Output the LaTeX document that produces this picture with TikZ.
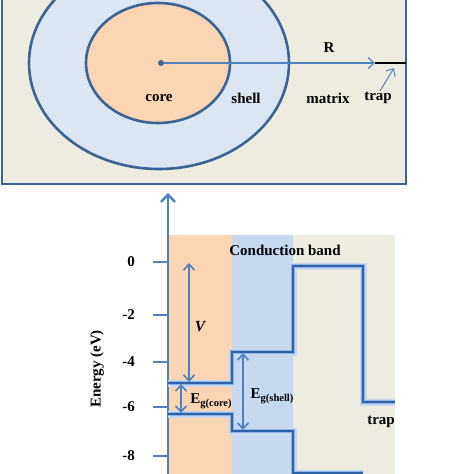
\documentclass[tikz,border=0pt]{standalone}
\usepackage{fontspec}
\setmainfont{Liberation Serif}
\usetikzlibrary{arrows.meta,positioning}
\definecolor{boxblue}{HTML}{3B6494}
\definecolor{midblue}{HTML}{4F81BD}
\definecolor{bandblue}{HTML}{2F62A6}
\definecolor{glowblue}{HTML}{8DB4E3}
\definecolor{matrixbg}{HTML}{EEECE1}
\definecolor{shellbg}{HTML}{DCE6F2}
\definecolor{shellband}{HTML}{C6D9F1}
\definecolor{corebg}{HTML}{FCD5B5}
\newcommand{\subg}[1]{\raisebox{-3pt}{\fontsize{10.5}{10}\selectfont #1}}

\begin{document}
\begin{tikzpicture}[
    x=1pt, y=-1pt,
    lbl/.style={font=\fontsize{15}{16}\selectfont\bfseries, inner sep=1pt},
    outline/.style={draw=boxblue, line width=2.6pt},
    rarrow/.style={draw=midblue, line width=1.2pt, -{Straight Barb[length=6pt, width=11pt]}},
    dim/.style={draw=midblue, line width=1.6pt, {Straight Barb[length=6pt, width=11pt]}-{Straight Barb[length=6pt, width=11pt]}},
    glowwide/.style={draw=glowblue!50, line width=7pt, line join=miter},
    glow/.style={draw=glowblue, line width=4.5pt, line join=miter},
    band/.style={draw=bandblue, line width=2.2pt, line join=miter}
]
    \clip (0,0) rectangle (474,474);

    % Particle
    \draw[outline, fill=matrixbg] (2,-20) rectangle (406,184);
    \draw[outline, fill=shellbg] (159,63) ellipse [x radius=130pt, y radius=106pt];
    \draw[outline, fill=corebg] (158,63) ellipse [x radius=72pt, y radius=60pt];

    \node[circle, fill=boxblue, inner sep=0pt, minimum size=6pt] (centre) at (161,63) {};
    \coordinate (rend) at (375,63);
    \coordinate (wall) at (406,63);
    \draw[rarrow] (centre) -- (rend);
    \draw[black, line width=1.2pt] (rend) -- (wall);

    \node[lbl] (radius) at (329,48) {R};
    \node[lbl] (core) at (159,98) {core};
    \node[lbl] (shell) at (246,98) {shell};
    \node[lbl] (matrix) at (328,98) {matrix};
    \node[lbl] (trap) at (378,98) {trap};
    \coordinate (trapto) at (394,68);
    \draw[rarrow, line width=1pt] ([xshift=2pt]trap.north) -- (trapto);

    % Regions
    \fill[corebg] (168,235) rectangle (232,474);
    \fill[shellband] (232,235) rectangle (293,474);
    \fill[matrixbg] (293,235) rectangle (395,474);

    % Energy axis
    \coordinate (axbot) at (168,474);
    \coordinate (axtop) at (168,193);
    \draw[draw=midblue, line width=2.6pt, -{Straight Barb[length=7pt, width=14pt]}] (axbot) -- (axtop);
    \foreach \e/\yy in {0/262, -2/315, -4/362, -6/407, -8/456} {
        \coordinate (t\yy) at (153,\yy);
        \coordinate (a\yy) at (168,\yy);
        \draw[draw=midblue, line width=1.8pt] (t\yy) -- (a\yy);
        \node[lbl, anchor=east] at (136,\yy) {\e};
    }
    \node[lbl, rotate=90] (elabel) at (97,369) {Energy (eV)};

    % Bands
    \foreach \sty in {glowwide, glow, band} {
        \draw[\sty] (168,383) -- (232,383) -- (232,352) -- (293,352) -- (293,266)
            -- (363,266) -- (363,402) -- (395,402);
        \draw[\sty] (168,414) -- (232,414) -- (232,431) -- (293,431) -- (293,473) -- (363,473);
    }

    \node[lbl] (cband) at (285,250) {Conduction band};
    \node[lbl] (traplevel) at (381,422) {trap};

    % Gaps
    \coordinate (vtop) at (189,263);
    \coordinate (vbot) at (189,382);
    \draw[dim] (vtop) -- (vbot);
    \node[lbl, font=\fontsize{15.5}{16}\selectfont\bfseries\itshape] (offset) at (200,327) {V};

    \coordinate (ctop) at (181,384);
    \coordinate (cbot) at (181,413);
    \draw[dim] (ctop) -- (cbot);
    \node[lbl] (egcore) at (211,401) {E\subg{g(core)}};

    \coordinate (stop) at (243,353);
    \coordinate (sbot) at (243,430);
    \draw[dim] (stop) -- (sbot);
    \node[lbl] (egshell) at (272,396) {E\subg{g(shell)}};
\end{tikzpicture}
\end{document}
